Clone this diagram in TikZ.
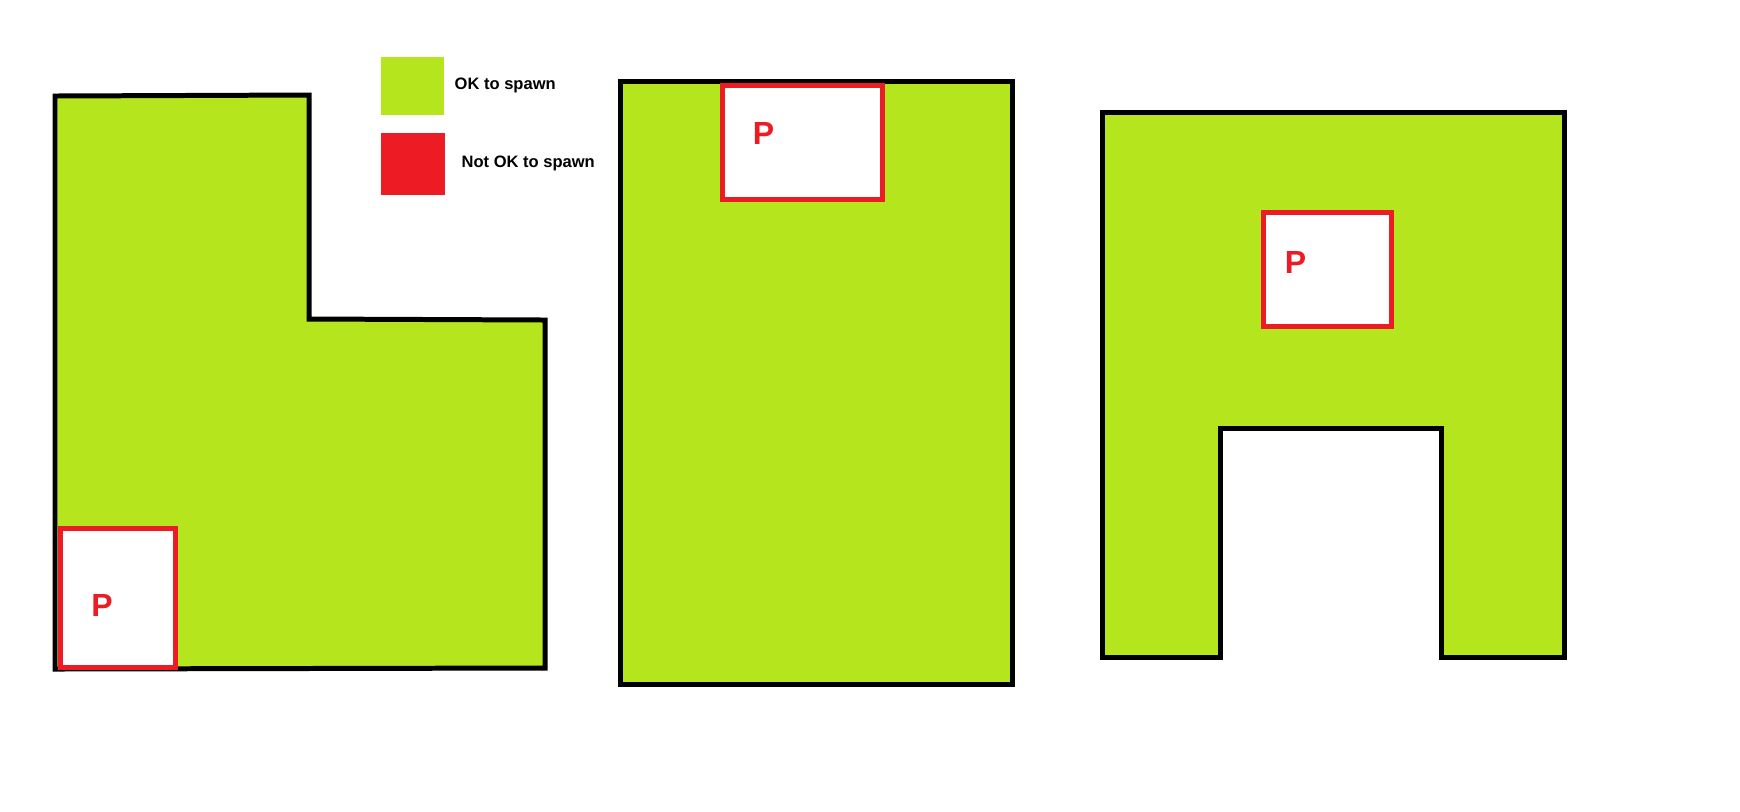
\documentclass[tikz,border=0pt]{standalone}
\usepackage{fontspec}
\setmainfont{Liberation Sans}
\definecolor{okgreen}{HTML}{B5E61D}
\definecolor{nored}{HTML}{ED1C24}
\tikzset{
  room/.style={draw=black, fill=okgreen, line width=1.42pt, line join=miter},
  pbox/.style={draw=nored, fill=white, line width=1.42pt},
  plabel/.style={text=nored, font=\fontsize{9.1pt}{10pt}\selectfont\bfseries, inner sep=0pt},
  legtext/.style={font=\fontsize{4.7pt}{6pt}\selectfont\bfseries, inner sep=0pt, anchor=base west},
}
\begin{document}
\begin{tikzpicture}[x=0.01cm, y=-0.01cm]
\useasboundingbox (0,0) rectangle (1740,811);
\fill[white] (0,0) rectangle (1740,811);
% legend
\fill[okgreen] (381,57) rectangle (444,115);
\fill[nored] (381,133) rectangle (445,195);
\node[legtext] (ok) at (454,89) {OK to spawn};
\node[legtext] (nok) at (461,167) {Not OK to spawn};
% room 1 (L-shape)
\draw[room] (55,96) -- (309,95) -- (309,319) -- (545,320) -- (545,668) -- (55,669) -- cycle;
\draw[pbox] (60.5,528.5) rectangle (175.5,667);
\node[plabel] (p1) at (102,605) {P};
% room 2 (rectangle)
\draw[room] (620,81.5) rectangle (1012.5,684.5);
\draw[pbox] (722.5,85.5) rectangle (882.5,199);
\node[plabel] (p2) at (763.5,133.5) {P};
% room 3 (U-shape)
\draw[room] (1102.5,112.5) -- (1564.5,112.5) -- (1564.5,657.5) -- (1441.5,657.5)
  -- (1441.5,428.5) -- (1220.5,428.5) -- (1220.5,657.5) -- (1102.5,657.5) -- cycle;
\draw[pbox] (1263.5,212.5) rectangle (1391.5,326.5);
\node[plabel] (p3) at (1295.5,262.5) {P};
\end{tikzpicture}
\end{document}
